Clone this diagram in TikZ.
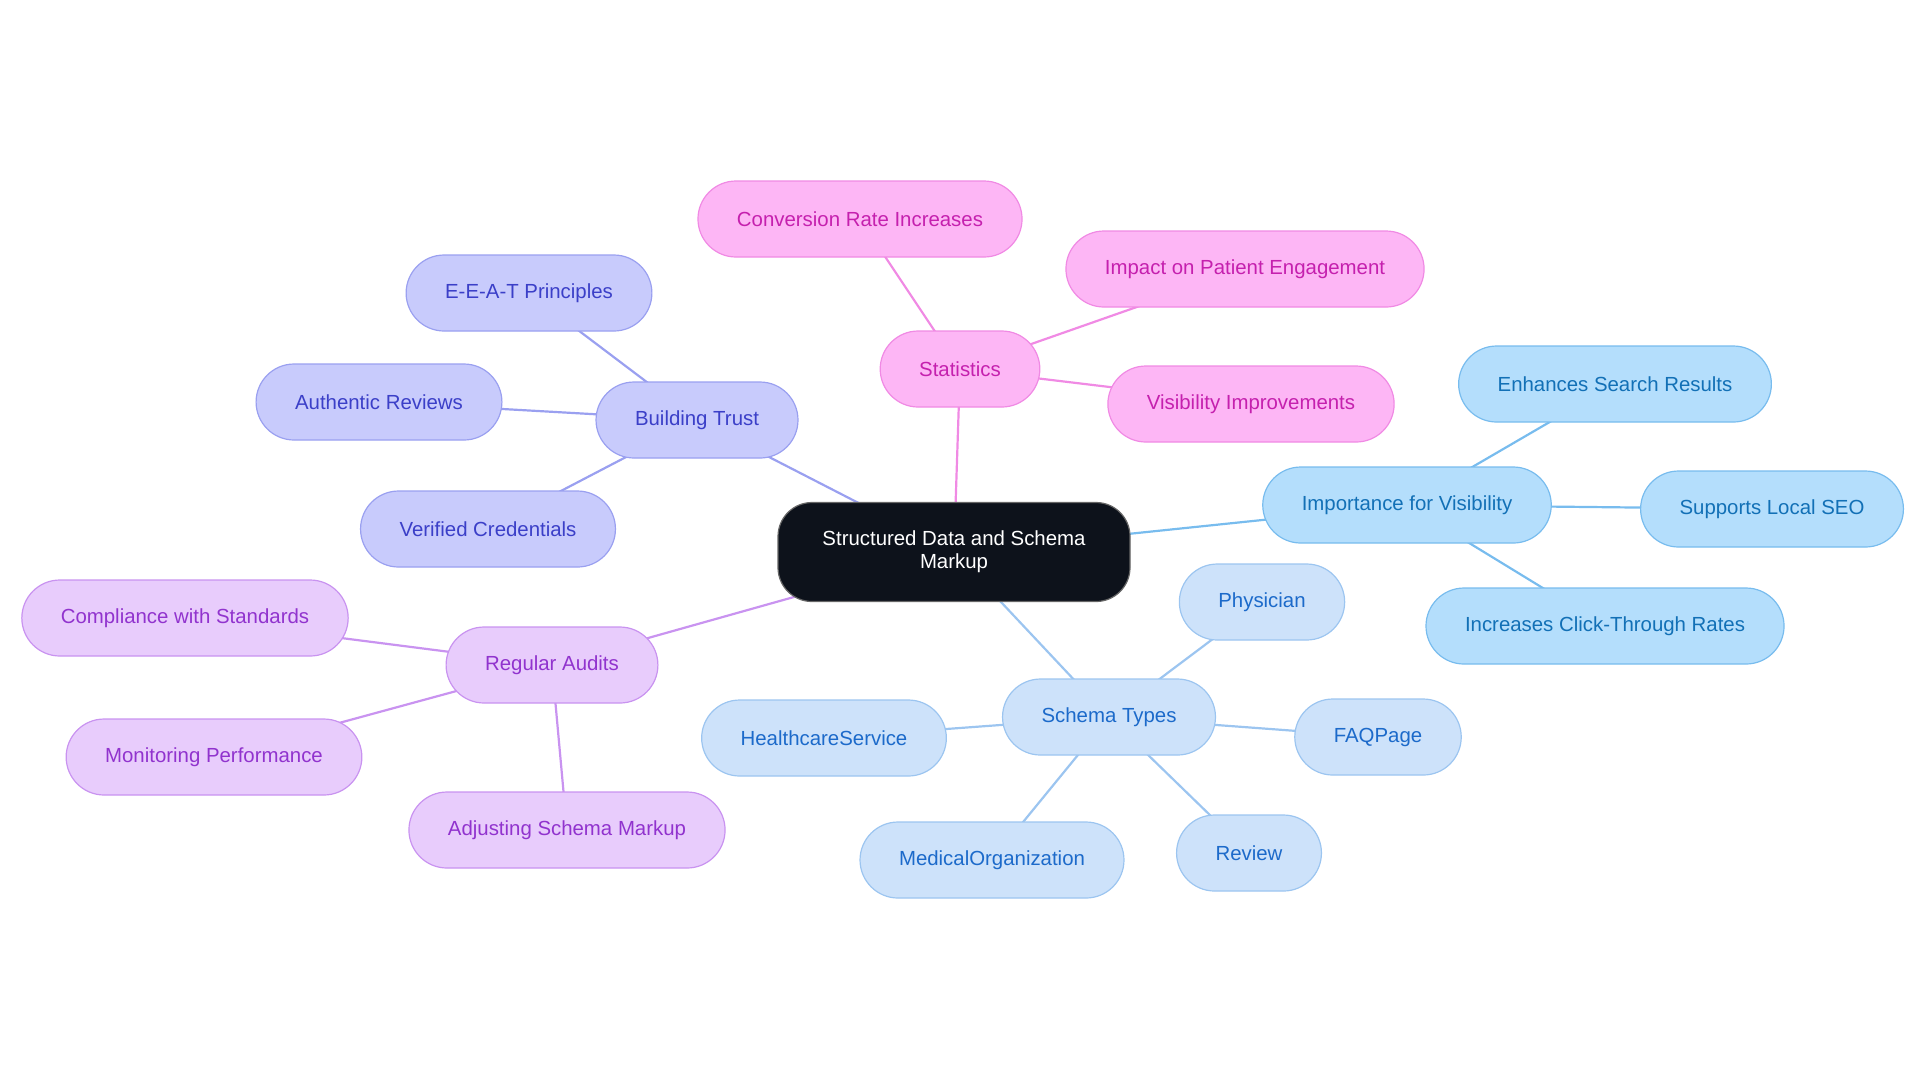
\documentclass[tikz,border=0pt]{standalone}
\usepackage{fontspec}
\setmainfont{Liberation Sans}
\usetikzlibrary{backgrounds}
\definecolor{coreink}{HTML}{0D121B}
\definecolor{trustfill}{HTML}{C8CBFC}
\definecolor{trustline}{HTML}{9AA0F0}
\definecolor{trusttext}{HTML}{3B3FC8}
\definecolor{statfill}{HTML}{FDB6F5}
\definecolor{statline}{HTML}{F08AE4}
\definecolor{stattext}{HTML}{C520AE}
\definecolor{visfill}{HTML}{B4DEFC}
\definecolor{visline}{HTML}{78BCEE}
\definecolor{vistext}{HTML}{1270B6}
\definecolor{typefill}{HTML}{CDE2FA}
\definecolor{typeline}{HTML}{9CC5F0}
\definecolor{typetext}{HTML}{1C6ACA}
\definecolor{auditfill}{HTML}{E8CCFC}
\definecolor{auditline}{HTML}{C993F0}
\definecolor{audittext}{HTML}{9133CE}

\tikzset{
  pill/.style={rectangle, rounded corners=19pt, minimum height=38pt, inner xsep=19.5pt,
    line width=0.6pt, font=\fontsize{10.2}{12}\selectfont},
  trustbox/.style={pill, fill=trustfill, draw=trustline, text=trusttext},
  statbox/.style={pill, fill=statfill, draw=statline, text=stattext},
  visbox/.style={pill, fill=visfill, draw=visline, text=vistext},
  typebox/.style={pill, fill=typefill, draw=typeline, text=typetext},
  auditbox/.style={pill, fill=auditfill, draw=auditline, text=audittext},
  link/.style={line width=1.1pt},
}

\begin{document}
\begin{tikzpicture}[x=0.5pt, y=-0.5pt]
\useasboundingbox (0,0) rectangle (1920,1083);

% Root
\node[rectangle, rounded corners=17pt, fill=coreink, draw=black!60, line width=0.6pt,
  minimum width=176pt, minimum height=49.5pt, text=white, align=center,
  font=\fontsize{10.2}{11.5}\selectfont] (root) at (954, 552)
  {Structured Data and Schema\\Markup};

% Building trust branch
\node[trustbox] (trust) at (697, 420) {Building Trust};
\node[trustbox] (eeat) at (529, 293) {E-E-A-T Principles};
\node[trustbox] (reviews) at (379, 402) {Authentic Reviews};
\node[trustbox] (creds) at (488, 529) {Verified Credentials};

% Statistics branch
\node[statbox] (stats) at (960, 369) {Statistics};
\node[statbox] (conv) at (860, 219) {Conversion Rate Increases};
\node[statbox] (engage) at (1245, 269) {Impact on Patient Engagement};
\node[statbox] (visimp) at (1251, 404) {Visibility Improvements};

% Visibility branch
\node[visbox] (vis) at (1407, 505) {Importance for Visibility};
\node[visbox] (search) at (1615, 384) {Enhances Search Results};
\node[visbox] (local) at (1772, 509) {Supports Local SEO};
\node[visbox] (ctr) at (1605, 626) {Increases Click-Through Rates};

% Schema types branch
\node[typebox] (types) at (1109, 717) {Schema Types};
\node[typebox] (phys) at (1262, 602) {Physician};
\node[typebox] (faq) at (1378, 737) {FAQPage};
\node[typebox] (review) at (1249, 853) {Review};
\node[typebox] (medorg) at (992, 860) {MedicalOrganization};
\node[typebox] (health) at (824, 738) {HealthcareService};

% Audits branch
\node[auditbox] (audits) at (552, 665) {Regular Audits};
\node[auditbox] (comply) at (185, 618) {Compliance with Standards};
\node[auditbox] (monitor) at (214, 757) {Monitoring Performance};
\node[auditbox] (adjust) at (567, 830) {Adjusting Schema Markup};

% Connectors, centre to centre behind the boxes
\begin{pgfonlayer}{background}
\draw[link, trustline] (root.center) -- (trust.center);
\draw[link, trustline] (trust.center) -- (eeat.center);
\draw[link, trustline] (trust.center) -- (reviews.center);
\draw[link, trustline] (trust.center) -- (creds.center);
\draw[link, statline] (root.center) -- (stats.center);
\draw[link, statline] (stats.center) -- (conv.center);
\draw[link, statline] (stats.center) -- (engage.center);
\draw[link, statline] (stats.center) -- (visimp.center);
\draw[link, visline] (root.center) -- (vis.center);
\draw[link, visline] (vis.center) -- (search.center);
\draw[link, visline] (vis.center) -- (local.center);
\draw[link, visline] (vis.center) -- (ctr.center);
\draw[link, typeline] (root.center) -- (types.center);
\draw[link, typeline] (types.center) -- (phys.center);
\draw[link, typeline] (types.center) -- (faq.center);
\draw[link, typeline] (types.center) -- (review.center);
\draw[link, typeline] (types.center) -- (medorg.center);
\draw[link, typeline] (types.center) -- (health.center);
\draw[link, auditline] (root.center) -- (audits.center);
\draw[link, auditline] (audits.center) -- (comply.center);
\draw[link, auditline] (audits.center) -- (monitor.center);
\draw[link, auditline] (audits.center) -- (adjust.center);
\end{pgfonlayer}

\end{tikzpicture}
\end{document}
